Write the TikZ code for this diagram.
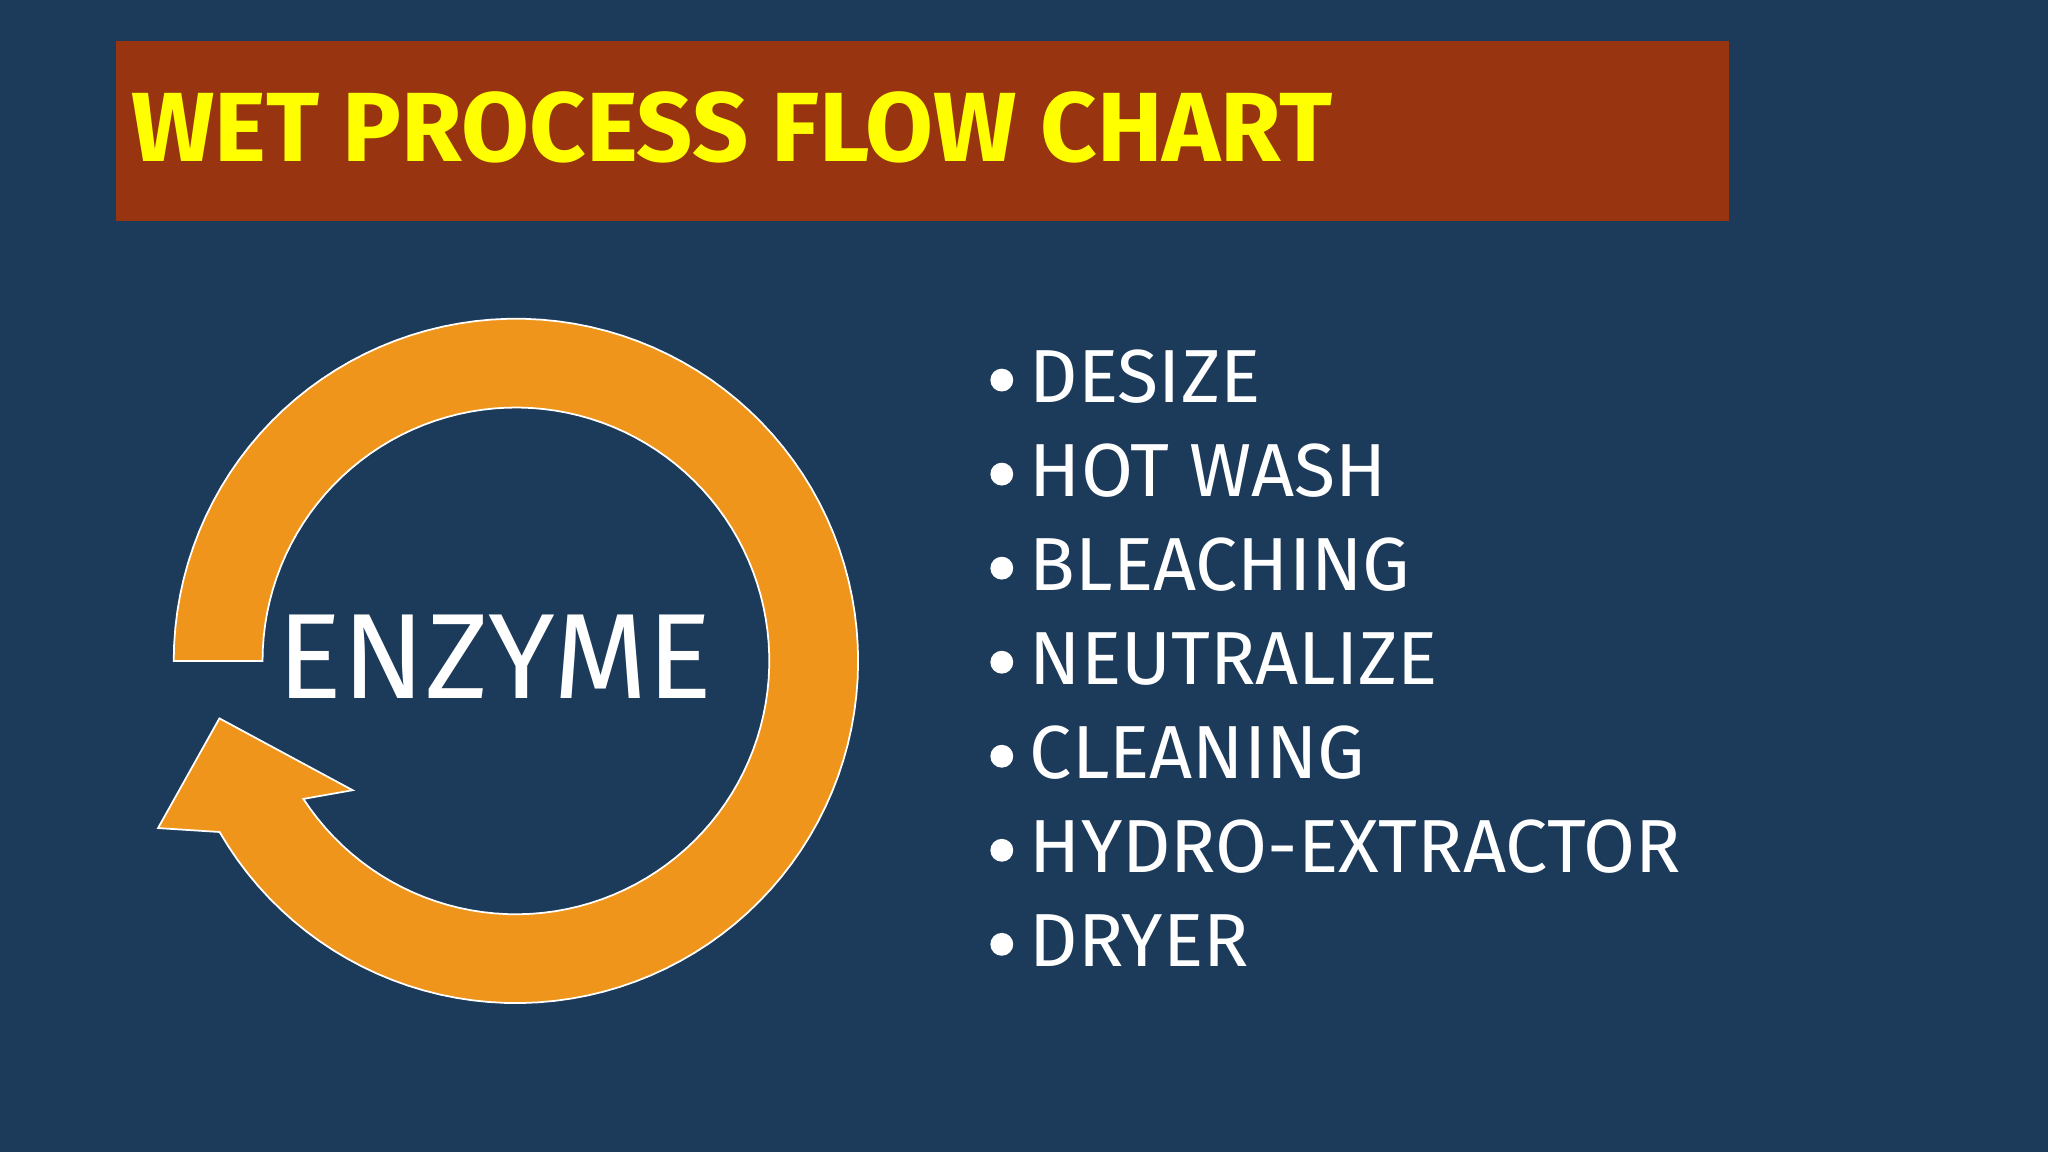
\documentclass[tikz,border=0pt]{standalone}
\usepackage{fontspec}
\setmainfont{Fira Sans}
\definecolor{bg}{HTML}{1C3A5A}
\definecolor{bar}{HTML}{98340F}
\definecolor{ttl}{HTML}{FFFF00}
\definecolor{ring}{HTML}{F0951B}
\tikzset{itemtxt/.style={anchor=base west,text=white,font=\fontsize{21.4}{21.4}\selectfont,inner sep=0pt},
 bul/.style={circle,fill=white,inner sep=0pt,minimum size=6.5pt}}
\begin{document}
\begin{tikzpicture}[x=0.013061cm,y=-0.013061cm]
\fill[bg] (0,0) rectangle (1568,882);
\useasboundingbox (0,0) rectangle (1568,882);
\node[fill=bar,minimum width=1235*0.013061cm,minimum height=138*0.013061cm,inner sep=0pt,anchor=north west] (bar) at (88,31) {};
\node[anchor=base west,inner sep=0pt,text=ttl,font=\fontsize{28}{28}\selectfont\bfseries] (title) at (100,124) {WET PROCESS FLOW CHART};
\fill[ring,draw=white,line width=0.5pt]
  plot[domain=180:-150,samples=120] ({395+262*cos(\x)},{506-262*sin(\x)})
  -- (121,634) -- (168,550) -- (270,605)
  -- plot[domain=-147:180,samples=120] ({395+194*cos(\x)},{506-194*sin(\x)}) -- cycle;
\node[anchor=base,inner sep=0pt,text=white,font=\fontsize{34.5}{34.5}\selectfont] (enz) at (379,535) {ENZYME};
\foreach \t [count=\i] in {DESIZE,HOT WASH,BLEACHING,NEUTRALIZE,CLEANING,HYDRO-EXTRACTOR,DRYER}{
  \node[bul] (b\i) at (767,{308+72*(\i-1)-17}) {};
  \node[itemtxt] (t\i) at (788,{308+72*(\i-1)}) {\t};
}
\end{tikzpicture}
\end{document}
